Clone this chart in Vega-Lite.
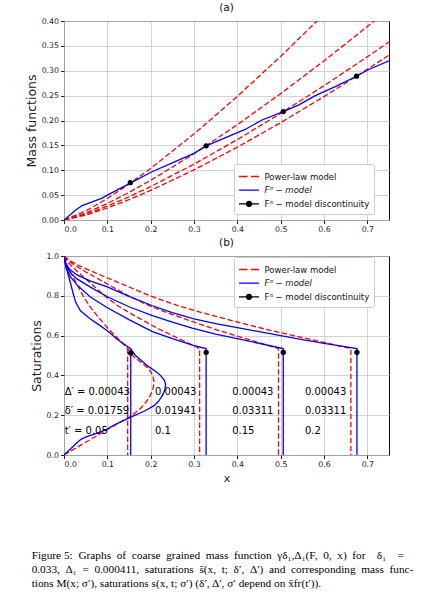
{
  "$schema": "https://vega.github.io/schema/vega-lite/v6.json",
  "background": "white",
  "padding": {"left": 24, "top": 2, "right": 5, "bottom": 5},
  "spacing": 3,
  "title": {
    "text": [
      "Figure 5:\u2002Graphs\u2002of\u2002coarse\u2002grained\u2002mass\u2002function\u2002γδ₁,Δ₁(F,\u20020,\u2002x)\u2002for\u2003δ₁\u2003=",
      "0.033,\u2002Δ₁\u2002=\u20020.000411,\u2002saturations\u2002s̄(x,\u2002t;\u2002δ′,\u2002Δ′)\u2002and\u2002corresponding\u2002mass\u2002func-",
      "tions M(x; σ′), saturations s(x, t; σ′) (δ′, Δ′, σ′ depend on x̄fr(t′))."
    ],
    "orient": "bottom",
    "anchor": "start",
    "frame": "bounds",
    "font": "Liberation Serif",
    "fontSize": 11.3,
    "lineHeight": 14,
    "fontWeight": "normal",
    "color": "black",
    "offset": 66,
    "dx": 7
  },
  "datasets": {
    "a_red": [
      {"c": 1, "x": 0, "y": 0}, {"c": 1, "x": 0.05, "y": 0.0181}, {"c": 1, "x": 0.1, "y": 0.0433}, {"c": 1, "x": 0.15, "y": 0.0722},
      {"c": 1, "x": 0.2, "y": 0.1037}, {"c": 1, "x": 0.3, "y": 0.1729}, {"c": 1, "x": 0.4, "y": 0.2484}, {"c": 1, "x": 0.5, "y": 0.329},
      {"c": 1, "x": 0.584, "y": 0.4},
      {"c": 2, "x": 0, "y": 0}, {"c": 2, "x": 0.05, "y": 0.0138}, {"c": 2, "x": 0.1, "y": 0.0332}, {"c": 2, "x": 0.15, "y": 0.0554},
      {"c": 2, "x": 0.2, "y": 0.0797}, {"c": 2, "x": 0.3, "y": 0.1331}, {"c": 2, "x": 0.4, "y": 0.1915}, {"c": 2, "x": 0.5, "y": 0.254},
      {"c": 2, "x": 0.6, "y": 0.3198}, {"c": 2, "x": 0.7, "y": 0.3888}, {"c": 2, "x": 0.716, "y": 0.4},
      {"c": 3, "x": 0, "y": 0}, {"c": 3, "x": 0.05, "y": 0.0116}, {"c": 3, "x": 0.1, "y": 0.028}, {"c": 3, "x": 0.15, "y": 0.0467},
      {"c": 3, "x": 0.2, "y": 0.0672}, {"c": 3, "x": 0.3, "y": 0.1123}, {"c": 3, "x": 0.4, "y": 0.1616}, {"c": 3, "x": 0.5, "y": 0.2143},
      {"c": 3, "x": 0.6, "y": 0.2699}, {"c": 3, "x": 0.7, "y": 0.328}, {"c": 3, "x": 0.75, "y": 0.3579},
      {"c": 4, "x": 0, "y": 0}, {"c": 4, "x": 0.05, "y": 0.0098}, {"c": 4, "x": 0.1, "y": 0.0241}, {"c": 4, "x": 0.15, "y": 0.0409},
      {"c": 4, "x": 0.2, "y": 0.0594}, {"c": 4, "x": 0.3, "y": 0.1007}, {"c": 4, "x": 0.4, "y": 0.1464}, {"c": 4, "x": 0.5, "y": 0.1957},
      {"c": 4, "x": 0.6, "y": 0.248}, {"c": 4, "x": 0.7, "y": 0.303}, {"c": 4, "x": 0.75, "y": 0.3314}
    ],
    "a_blue": [
      {"x": 0, "y": 0}, {"x": 0.027, "y": 0.02}, {"x": 0.042, "y": 0.029}, {"x": 0.088, "y": 0.044}, {"x": 0.1, "y": 0.05},
      {"x": 0.153, "y": 0.074}, {"x": 0.203, "y": 0.097}, {"x": 0.25, "y": 0.115}, {"x": 0.3, "y": 0.134}, {"x": 0.328, "y": 0.149},
      {"x": 0.418, "y": 0.182}, {"x": 0.457, "y": 0.201}, {"x": 0.506, "y": 0.218}, {"x": 0.541, "y": 0.231}, {"x": 0.58, "y": 0.25},
      {"x": 0.626, "y": 0.268}, {"x": 0.675, "y": 0.289}, {"x": 0.702, "y": 0.302}, {"x": 0.75, "y": 0.32}
    ],
    "a_dots": [
      {"x": 0.153, "y": 0.075}, {"x": 0.328, "y": 0.149}, {"x": 0.506, "y": 0.218}, {"x": 0.675, "y": 0.289}
    ],
    "b_red": [
      {"c": 1, "x": 0, "y": 1}, {"c": 1, "x": 0.0029, "y": 0.9768}, {"c": 1, "x": 0.0074, "y": 0.9535}, {"c": 1, "x": 0.0147, "y": 0.921},
      {"c": 1, "x": 0.0221, "y": 0.8907}, {"c": 1, "x": 0.0294, "y": 0.8605}, {"c": 1, "x": 0.0441, "y": 0.8}, {"c": 1, "x": 0.0588, "y": 0.749},
      {"c": 1, "x": 0.0735, "y": 0.708}, {"c": 1, "x": 0.0882, "y": 0.67}, {"c": 1, "x": 0.1029, "y": 0.633}, {"c": 1, "x": 0.1176, "y": 0.6},
      {"c": 1, "x": 0.1323, "y": 0.5675}, {"c": 1, "x": 0.147, "y": 0.535}, {"c": 1, "x": 0.158, "y": 0.5}, {"c": 1, "x": 0.178, "y": 0.465},
      {"c": 1, "x": 0.196, "y": 0.433}, {"c": 1, "x": 0.205, "y": 0.4}, {"c": 1, "x": 0.208, "y": 0.366}, {"c": 1, "x": 0.205, "y": 0.33},
      {"c": 1, "x": 0.199, "y": 0.298}, {"c": 1, "x": 0.189, "y": 0.265}, {"c": 1, "x": 0.177, "y": 0.235}, {"c": 1, "x": 0.163, "y": 0.21},
      {"c": 1, "x": 0.15, "y": 0.19}, {"c": 1, "x": 0.1, "y": 0.127}, {"c": 1, "x": 0.05, "y": 0.064}, {"c": 1, "x": 0, "y": 0},
      {"c": 5, "x": 0.147, "y": 0.535}, {"c": 5, "x": 0.147, "y": 0},
      {"c": 2, "x": 0, "y": 1}, {"c": 2, "x": 0.0063, "y": 0.9768}, {"c": 2, "x": 0.0157, "y": 0.9535}, {"c": 2, "x": 0.0313, "y": 0.921},
      {"c": 2, "x": 0.047, "y": 0.8907}, {"c": 2, "x": 0.0626, "y": 0.8605}, {"c": 2, "x": 0.0939, "y": 0.8}, {"c": 2, "x": 0.1252, "y": 0.749},
      {"c": 2, "x": 0.1565, "y": 0.708}, {"c": 2, "x": 0.1878, "y": 0.67}, {"c": 2, "x": 0.2191, "y": 0.633}, {"c": 2, "x": 0.2504, "y": 0.6},
      {"c": 2, "x": 0.2817, "y": 0.5675}, {"c": 2, "x": 0.313, "y": 0.535}, {"c": 2, "x": 0.313, "y": 0},
      {"c": 3, "x": 0, "y": 1}, {"c": 3, "x": 0.0099, "y": 0.9768}, {"c": 3, "x": 0.0248, "y": 0.9535}, {"c": 3, "x": 0.0495, "y": 0.921},
      {"c": 3, "x": 0.0743, "y": 0.8907}, {"c": 3, "x": 0.099, "y": 0.8605}, {"c": 3, "x": 0.1485, "y": 0.8}, {"c": 3, "x": 0.198, "y": 0.749},
      {"c": 3, "x": 0.2475, "y": 0.708}, {"c": 3, "x": 0.297, "y": 0.67}, {"c": 3, "x": 0.3465, "y": 0.633}, {"c": 3, "x": 0.396, "y": 0.6},
      {"c": 3, "x": 0.4455, "y": 0.5675}, {"c": 3, "x": 0.495, "y": 0.535}, {"c": 3, "x": 0.495, "y": 0},
      {"c": 4, "x": 0, "y": 1}, {"c": 4, "x": 0.0132, "y": 0.9768}, {"c": 4, "x": 0.0331, "y": 0.9535}, {"c": 4, "x": 0.0662, "y": 0.921},
      {"c": 4, "x": 0.0993, "y": 0.8907}, {"c": 4, "x": 0.1324, "y": 0.8605}, {"c": 4, "x": 0.1986, "y": 0.8}, {"c": 4, "x": 0.2648, "y": 0.749},
      {"c": 4, "x": 0.331, "y": 0.708}, {"c": 4, "x": 0.3972, "y": 0.67}, {"c": 4, "x": 0.4634, "y": 0.633}, {"c": 4, "x": 0.5296, "y": 0.6},
      {"c": 4, "x": 0.5958, "y": 0.5675}, {"c": 4, "x": 0.662, "y": 0.535}, {"c": 4, "x": 0.662, "y": 0}
    ],
    "b_blue": [
      {"c": 1, "x": 0, "y": 1}, {"c": 1, "x": 0.004, "y": 0.95}, {"c": 1, "x": 0.0115, "y": 0.892}, {"c": 1, "x": 0.0215, "y": 0.809},
      {"c": 1, "x": 0.027, "y": 0.767}, {"c": 1, "x": 0.038, "y": 0.725}, {"c": 1, "x": 0.061, "y": 0.683}, {"c": 1, "x": 0.08, "y": 0.655},
      {"c": 1, "x": 0.1, "y": 0.624}, {"c": 1, "x": 0.125, "y": 0.578}, {"c": 1, "x": 0.153, "y": 0.535}, {"c": 1, "x": 0.165, "y": 0.5},
      {"c": 1, "x": 0.18, "y": 0.472}, {"c": 1, "x": 0.192, "y": 0.449}, {"c": 1, "x": 0.212, "y": 0.42}, {"c": 1, "x": 0.223, "y": 0.399},
      {"c": 1, "x": 0.231, "y": 0.378}, {"c": 1, "x": 0.2345, "y": 0.357}, {"c": 1, "x": 0.233, "y": 0.33}, {"c": 1, "x": 0.227, "y": 0.298},
      {"c": 1, "x": 0.218, "y": 0.27}, {"c": 1, "x": 0.208, "y": 0.248}, {"c": 1, "x": 0.185, "y": 0.22}, {"c": 1, "x": 0.154, "y": 0.19},
      {"c": 1, "x": 0.12, "y": 0.155}, {"c": 1, "x": 0.092, "y": 0.122}, {"c": 1, "x": 0.07, "y": 0.105}, {"c": 1, "x": 0.054, "y": 0.094},
      {"c": 1, "x": 0.04, "y": 0.08}, {"c": 1, "x": 0.031, "y": 0.064}, {"c": 1, "x": 0.015, "y": 0.03}, {"c": 1, "x": 0, "y": 0},
      {"c": 5, "x": 0.154, "y": 0.535}, {"c": 5, "x": 0.154, "y": 0},
      {"c": 2, "x": 0, "y": 1}, {"c": 2, "x": 0.005, "y": 0.94}, {"c": 2, "x": 0.015, "y": 0.895}, {"c": 2, "x": 0.03, "y": 0.855},
      {"c": 2, "x": 0.06, "y": 0.795}, {"c": 2, "x": 0.1, "y": 0.74}, {"c": 2, "x": 0.15, "y": 0.68}, {"c": 2, "x": 0.204, "y": 0.62},
      {"c": 2, "x": 0.25, "y": 0.585}, {"c": 2, "x": 0.3, "y": 0.55}, {"c": 2, "x": 0.328, "y": 0.535}, {"c": 2, "x": 0.328, "y": 0},
      {"c": 3, "x": 0, "y": 1}, {"c": 3, "x": 0.005, "y": 0.95}, {"c": 3, "x": 0.015, "y": 0.915}, {"c": 3, "x": 0.03, "y": 0.885},
      {"c": 3, "x": 0.06, "y": 0.845}, {"c": 3, "x": 0.1, "y": 0.795}, {"c": 3, "x": 0.15, "y": 0.745}, {"c": 3, "x": 0.204, "y": 0.7},
      {"c": 3, "x": 0.25, "y": 0.668}, {"c": 3, "x": 0.296, "y": 0.638}, {"c": 3, "x": 0.35, "y": 0.607}, {"c": 3, "x": 0.427, "y": 0.572},
      {"c": 3, "x": 0.506, "y": 0.535}, {"c": 3, "x": 0.506, "y": 0},
      {"c": 4, "x": 0, "y": 1}, {"c": 4, "x": 0.005, "y": 0.955}, {"c": 4, "x": 0.015, "y": 0.93}, {"c": 4, "x": 0.03, "y": 0.905},
      {"c": 4, "x": 0.06, "y": 0.875}, {"c": 4, "x": 0.1, "y": 0.845}, {"c": 4, "x": 0.15, "y": 0.797}, {"c": 4, "x": 0.204, "y": 0.75},
      {"c": 4, "x": 0.25, "y": 0.715}, {"c": 4, "x": 0.3, "y": 0.684}, {"c": 4, "x": 0.35, "y": 0.66}, {"c": 4, "x": 0.4, "y": 0.64},
      {"c": 4, "x": 0.45, "y": 0.62}, {"c": 4, "x": 0.5, "y": 0.6}, {"c": 4, "x": 0.55, "y": 0.58}, {"c": 4, "x": 0.604, "y": 0.56},
      {"c": 4, "x": 0.676, "y": 0.535}, {"c": 4, "x": 0.676, "y": 0}
    ],
    "b_dots": [
      {"x": 0.154, "y": 0.512}, {"x": 0.328, "y": 0.516}, {"x": 0.506, "y": 0.516}, {"x": 0.676, "y": 0.516}
    ],
    "b_text": [
      {"x": 0.0015, "y": 0.319, "t": "Δ′ = 0.00043"}, {"x": 0.0015, "y": 0.22, "t": "δ′ = 0.01759"}, {"x": 0.0015, "y": 0.119, "t": "t′ = 0.05"},
      {"x": 0.21, "y": 0.319, "t": "0.00043"}, {"x": 0.21, "y": 0.22, "t": "0.01941"}, {"x": 0.21, "y": 0.119, "t": "0.1"},
      {"x": 0.388, "y": 0.319, "t": "0.00043"}, {"x": 0.388, "y": 0.22, "t": "0.03311"}, {"x": 0.388, "y": 0.119, "t": "0.15"},
      {"x": 0.556, "y": 0.319, "t": "0.00043"}, {"x": 0.556, "y": 0.22, "t": "0.03311"}, {"x": 0.556, "y": 0.119, "t": "0.2"}
    ]
  },
  "vconcat": [
    {
      "width": 325,
      "height": 199,
      "title": "(a)",
      "encoding": {
        "x": {"field": "x", "type": "quantitative", "scale": {"domain": [0, 0.75], "nice": false},
              "axis": {"values": [0, 0.1, 0.2, 0.3, 0.4, 0.5, 0.6, 0.7], "format": ".1f", "title": null}},
        "y": {"field": "y", "type": "quantitative", "scale": {"domain": [0, 0.4], "nice": false},
              "axis": {"values": [0, 0.05, 0.1, 0.15, 0.2, 0.25, 0.3, 0.35, 0.4], "format": ".2f", "title": "Mass functions"}}
      },
      "layer": [
        {
          "data": {"name": "a_red"},
          "mark": {"type": "line", "strokeDash": [5.5, 2.5], "strokeWidth": 1.3, "clip": true},
          "encoding": {
            "detail": {"field": "c"},
            "order": {"value": null},
            "color": {
              "datum": "Power-law model", "type": "nominal",
              "scale": {"domain": ["Power-law model", "Fᵅ − model", "Fᵅ − model discontinuity"], "range": ["#ff0000", "#0000ff", "#000000"]},
              "legend": {
                "orient": "none", "legendX": 170, "legendY": 143,
                "title": null, "fillColor": "white", "strokeColor": "#cccccc", "cornerRadius": 2, "padding": 4,
                "labelFont": "DejaVu Sans", "labelFontSize": 8.5, "labelColor": "#111111", "labelOffset": 9.5,
                "rowPadding": 0.7, "symbolSize": 225,
                "encode": {
                  "symbols": {
                    "update": {
                      "shape": {"signal": "datum.index === 2 ? 'M-1,0H1.67M0,0A0.333,0.333,0,1,1,0.667,0A0.333,0.333,0,1,1,0,0Z' : 'M-1,0H1.67'"},
                      "fill": {"signal": "datum.index === 2 ? '#000000' : 'transparent'"},
                      "stroke": {"signal": "datum.index === 0 ? '#ff0000' : datum.index === 1 ? '#0000ff' : '#000000'"},
                      "strokeDash": {"signal": "datum.index === 0 ? [8.5, 3.5] : [1, 0]"},
                      "strokeWidth": {"value": 1.3},
                      "size": {"value": 225},
                      "opacity": {"value": 1}
                    }
                  },
                  "labels": {"update": {"fontStyle": {"signal": "datum.index === 1 ? 'italic' : 'normal'"}}}
                }
              }
            }
          }
        },
        {
          "data": {"name": "a_blue"},
          "mark": {"type": "line", "strokeWidth": 1.3, "clip": true},
          "encoding": {
            "order": {"value": null},
            "color": {"datum": "Fᵅ − model", "type": "nominal",
              "scale": {"domain": ["Power-law model", "Fᵅ − model", "Fᵅ − model discontinuity"], "range": ["#ff0000", "#0000ff", "#000000"]}}
          }
        },
        {
          "data": {"name": "a_dots"},
          "mark": {"type": "point", "filled": true, "size": 28, "opacity": 1},
          "encoding": {
            "color": {"datum": "Fᵅ − model discontinuity", "type": "nominal",
              "scale": {"domain": ["Power-law model", "Fᵅ − model", "Fᵅ − model discontinuity"], "range": ["#ff0000", "#0000ff", "#000000"]}}
          }
        }
      ]
    },
    {
      "width": 325,
      "height": 199,
      "title": "(b)",
      "encoding": {
        "x": {"field": "x", "type": "quantitative", "scale": {"domain": [0, 0.75], "nice": false},
              "axis": {"values": [0, 0.1, 0.2, 0.3, 0.4, 0.5, 0.6, 0.7], "format": ".1f", "title": "x"}},
        "y": {"field": "y", "type": "quantitative", "scale": {"domain": [0, 1], "nice": false},
              "axis": {"values": [0, 0.2, 0.4, 0.6, 0.8, 1], "format": ".1f", "title": "Saturations"}}
      },
      "layer": [
        {
          "data": {"name": "b_red"},
          "mark": {"type": "line", "strokeDash": [5.5, 2.5], "strokeWidth": 1.3, "clip": true},
          "encoding": {
            "detail": {"field": "c"},
            "order": {"value": null},
            "color": {
              "datum": "Power-law model", "type": "nominal",
              "scale": {"domain": ["Power-law model", "Fᵅ − model", "Fᵅ − model discontinuity"], "range": ["#ff0000", "#0000ff", "#000000"]},
              "legend": {
                "orient": "none", "legendX": 170, "legendY": 1,
                "title": null, "fillColor": "white", "strokeColor": "#cccccc", "cornerRadius": 2, "padding": 4,
                "labelFont": "DejaVu Sans", "labelFontSize": 8.5, "labelColor": "#111111", "labelOffset": 9.5,
                "rowPadding": 0.7, "symbolSize": 225,
                "encode": {
                  "symbols": {
                    "update": {
                      "shape": {"signal": "datum.index === 2 ? 'M-1,0H1.67M0,0A0.333,0.333,0,1,1,0.667,0A0.333,0.333,0,1,1,0,0Z' : 'M-1,0H1.67'"},
                      "fill": {"signal": "datum.index === 2 ? '#000000' : 'transparent'"},
                      "stroke": {"signal": "datum.index === 0 ? '#ff0000' : datum.index === 1 ? '#0000ff' : '#000000'"},
                      "strokeDash": {"signal": "datum.index === 0 ? [8.5, 3.5] : [1, 0]"},
                      "strokeWidth": {"value": 1.3},
                      "size": {"value": 225},
                      "opacity": {"value": 1}
                    }
                  },
                  "labels": {"update": {"fontStyle": {"signal": "datum.index === 1 ? 'italic' : 'normal'"}}}
                }
              }
            }
          }
        },
        {
          "data": {"name": "b_blue"},
          "mark": {"type": "line", "strokeWidth": 1.3, "clip": true},
          "encoding": {
            "detail": {"field": "c"},
            "order": {"value": null},
            "color": {"datum": "Fᵅ − model", "type": "nominal",
              "scale": {"domain": ["Power-law model", "Fᵅ − model", "Fᵅ − model discontinuity"], "range": ["#ff0000", "#0000ff", "#000000"]}}
          }
        },
        {
          "data": {"name": "b_dots"},
          "mark": {"type": "point", "filled": true, "size": 28, "opacity": 1},
          "encoding": {
            "color": {"datum": "Fᵅ − model discontinuity", "type": "nominal",
              "scale": {"domain": ["Power-law model", "Fᵅ − model", "Fᵅ − model discontinuity"], "range": ["#ff0000", "#0000ff", "#000000"]}}
          }
        },
        {
          "data": {"name": "b_text"},
          "mark": {"type": "text", "align": "left", "baseline": "middle", "font": "DejaVu Sans", "fontSize": 10, "color": "black"},
          "encoding": {
            "text": {"field": "t", "type": "nominal"}
          }
        }
      ]
    }
  ],
  "resolve": {"scale": {"color": "independent"}, "legend": {"color": "independent"}},
  "config": {
    "font": "DejaVu Sans",
    "view": {"stroke": "#111111", "strokeWidth": 1},
    "axis": {
      "labelFont": "DejaVu Sans", "labelFontSize": 7.8, "labelColor": "#222222", "labelPadding": 2,
      "tickColor": "#222222", "tickSize": 3.5, "domain": false,
      "grid": true, "gridColor": "#c8c8c8", "gridWidth": 0.8,
      "titleFont": "DejaVu Sans", "titleFontWeight": "normal", "titleFontSize": 12.5, "titleColor": "#222222", "titlePadding": 3
    },
    "axisX": {"titleFontSize": 11, "titlePadding": 4},
    "title": {"font": "DejaVu Sans", "fontSize": 10.5, "fontWeight": "normal", "color": "#111111", "offset": 0}
  }
}
